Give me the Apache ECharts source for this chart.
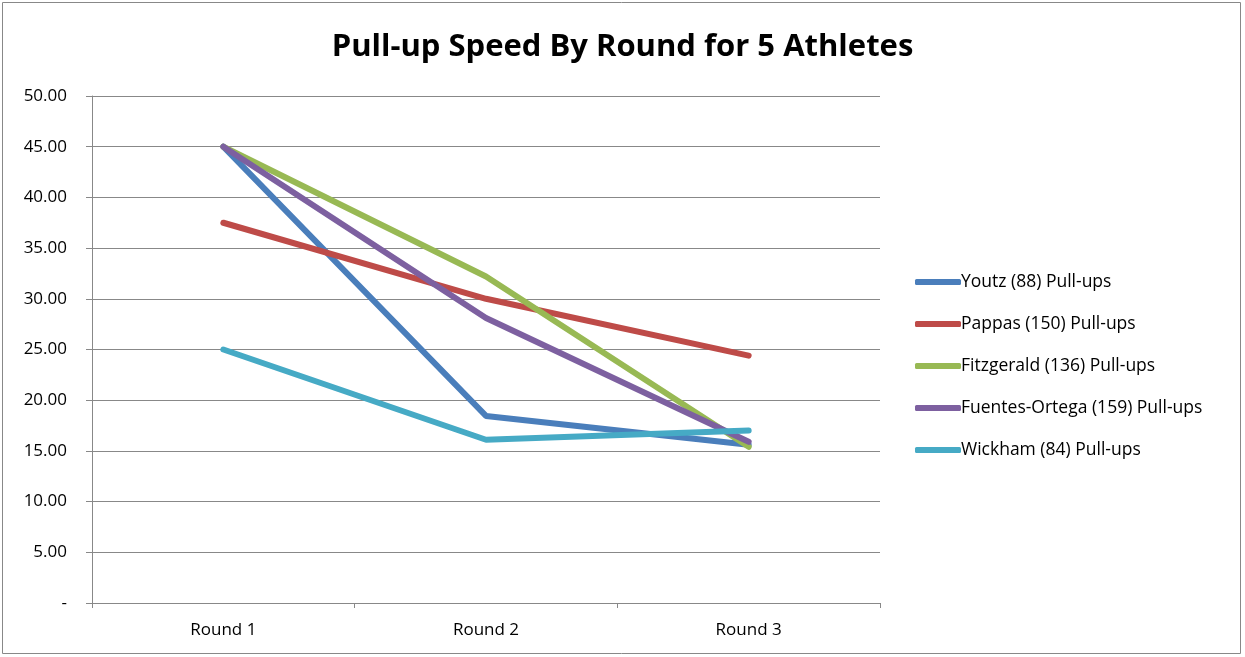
<!DOCTYPE html>
<html><head><meta charset="utf-8">
<script src="https://cdn.jsdelivr.net/npm/echarts@6/dist/echarts.min.js"></script>
<style>html,body{margin:0;padding:0;background:#fff}#c{width:1245px;height:657px}</style>
</head><body><div id="c"></div>
<script>
const categories = ['Round 1', 'Round 2', 'Round 3'];
const seriesNames = ['Youtz (88) Pull-ups', 'Pappas (150) Pull-ups', 'Fitzgerald (136) Pull-ups', 'Fuentes-Ortega (159) Pull-ups', 'Wickham (84) Pull-ups'];
const youtz = [45.0, 18.45, 15.6];
const pappas = [37.5, 30.0, 24.4];
const fitzgerald = [45.0, 32.2, 15.4];
const fuentes = [45.0, 28.1, 15.9];
const wickham = [25.0, 16.1, 17.0];
const colors = ['#4A7EBB', '#BE4B48', '#98B954', '#7D60A0', '#46AAC5'];
const values = [youtz, pappas, fitzgerald, fuentes, wickham];
const font = '"Open Sans", "Noto Sans", sans-serif';
const chart = echarts.init(document.getElementById('c'));
chart.setOption({
  animation: false,
  color: colors,
  title: {
    text: 'Pull-up Speed By Round for 5 Athletes',
    left: 'center', top: 27,
    textStyle: {fontFamily: font, fontSize: 31, fontWeight: 'bold', color: '#000'}
  },
  graphic: [{type: 'rect', shape: {x: 2.5, y: 2.5, width: 1238, height: 651}, style: {fill: 'none', stroke: '#888', lineWidth: 1}, silent: true}],
  legend: {
    orient: 'vertical', left: 910, top: 266, itemGap: 20,
    itemWidth: 46, itemHeight: 6, icon: 'roundRect',
    textStyle: {fontFamily: font, fontSize: 17.5, color: '#000', padding: [0,0,0,-5], lineHeight: 22},
    data: seriesNames
  },
  grid: {left: 92, right: 365, top: 96, bottom: 54},
  xAxis: {
    type: 'category', data: categories, boundaryGap: true,
    axisLine: {lineStyle: {color: '#888', width: 1}},
    axisTick: {show: true, length: 5, lineStyle: {color: '#888'}},
    axisLabel: {fontFamily: font, fontSize: 17, color: '#000', margin: 19}
  },
  yAxis: {
    type: 'value', min: 0, max: 50, interval: 5,
    axisLine: {show: true, lineStyle: {color: '#888', width: 1}},
    axisTick: {show: true, length: 6, lineStyle: {color: '#888'}},
    splitLine: {lineStyle: {color: '#888', width: 1}},
    axisLabel: {fontFamily: font, fontSize: 17, color: '#000', margin: 25,
      formatter: v => v === 0 ? '-' : v.toFixed(2)}
  },
  series: values.map((d, i) => ({
    name: seriesNames[i], type: 'line', data: d,
    symbol: 'none', lineStyle: {width: 6, cap: 'round', join: 'round'}
  }))
});
</script></body></html>
